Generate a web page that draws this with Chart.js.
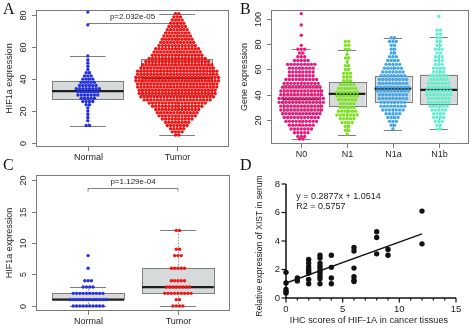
<!DOCTYPE html>
<html>
<head>
<meta charset="utf-8">
<script src="https://cdn.jsdelivr.net/npm/chart.js@4.4.1/dist/chart.umd.min.js"></script>
<style>
  body { margin: 0; background: #fff; }
  #page { position: relative; width: 474px; height: 329px; overflow: hidden; background: #fff; }
  .panel { position: absolute; }
  .tag { position: absolute; font-family: "Liberation Serif", "Times New Roman", serif; font-size: 16px; line-height: 1; color: #111; }
</style>
</head>
<body>
<div id="page">
  <div class="panel" style="left:0;top:0;width:237px;height:165px"><canvas id="chartA"></canvas></div>
  <div class="panel" style="left:237px;top:0;width:237px;height:165px"><canvas id="chartB"></canvas></div>
  <div class="panel" style="left:0;top:165px;width:237px;height:164px"><canvas id="chartC"></canvas></div>
  <div class="panel" style="left:237px;top:165px;width:237px;height:164px"><canvas id="chartD"></canvas></div>
  <div class="tag" style="left:3px;top:1px">A</div>
  <div class="tag" style="left:240px;top:1px">B</div>
  <div class="tag" style="left:3px;top:157px">C</div>
  <div class="tag" style="left:240px;top:157px">D</div>
</div>
<script>
// ---- Panel A: HIF1a expression, Normal vs Tumor (rows of the swarm: value + number of dots)
const groupsA = ['Normal', 'Tumor'];
const normalRowsA = [82, 74, 54.5, 52, 50, 48, 46, 44, 42, 40, 38, 36, 34, 32, 30, 28, 26, 24, 22, 20, 18, 16, 14, 11];
const normalCountsA = [1, 1, 1, 1, 1, 1, 1, 2, 3, 4, 5, 6, 8, 7, 7, 5, 4, 2, 1, 1, 1, 1, 1, 2];
const tumorRowsA = [81, 79, 77, 75, 73, 71, 69, 67, 65, 63, 61, 59, 57, 55, 53, 51, 49, 47, 45, 43, 41, 39, 37, 35, 33, 31, 29, 27, 25, 23, 21, 19, 17, 15, 13, 11, 9, 7, 5];
const tumorCountsA = [2, 3, 4, 5, 6, 7, 8, 9, 10, 11, 12, 14, 15, 16, 18, 20, 22, 23, 25, 25, 26, 26, 25, 25, 24, 24, 23, 21, 18, 16, 14, 13, 12, 10, 8, 7, 5, 4, 2];
const q1A = [27.5, 30];
const medianA = [32.5, 40.6];
const q3A = [39, 52.5];
const whiskerLoA = [10.5, 5];
const whiskerHiA = [54.5, 81];
const yTicksA = [0, 20, 40, 60, 80];

// ---- Panel B: gene expression by N stage
const groupsB = ['N0', 'N1', 'N1a', 'N1b'];
const n0RowsB = [104, 95, 87, 79, 76, 73, 70, 67, 64, 61, 58, 55, 52, 49, 46, 43, 40, 37, 34, 31, 28, 25, 22, 19, 16, 13, 10, 7, 5];
const n0CountsB = [1, 1, 1, 1, 3, 2, 3, 5, 9, 8, 8, 8, 10, 11, 12, 13, 13, 14, 14, 13, 13, 12, 11, 10, 8, 7, 5, 3, 2];
const n1RowsB = [82, 79, 76, 72, 69, 66, 63, 60, 57, 54, 51, 48, 45, 42, 39, 36, 33, 30, 27, 24, 21, 18, 15, 12, 9];
const n1CountsB = [2, 2, 2, 1, 2, 1, 2, 2, 3, 3, 3, 5, 6, 7, 7, 6, 5, 5, 6, 7, 5, 4, 2, 2, 1];
const n1aRowsB = [85, 82, 79, 76, 73, 70, 67, 64, 61, 58, 55, 52, 49, 46, 43, 40, 37, 34, 31, 28, 25, 22, 19, 16, 13];
const n1aCountsB = [2, 3, 2, 2, 2, 3, 4, 5, 6, 7, 8, 9, 9, 10, 10, 9, 9, 8, 8, 7, 5, 4, 3, 2, 1];
const n1bRowsB = [102, 91, 88, 85, 82, 79, 76, 73, 70, 67, 64, 61, 58, 55, 52, 49, 46, 43, 40, 37, 34, 31, 28, 25, 22, 19, 16, 13];
const n1bCountsB = [1, 2, 2, 2, 2, 2, 3, 2, 3, 3, 3, 4, 4, 6, 6, 7, 7, 8, 8, 7, 7, 6, 5, 4, 4, 3, 2, 2];
const q1B = [25.5, 30.8, 34, 32.9];
const medianB = [36.6, 40.6, 44.8, 43.8];
const q3B = [47.5, 50, 54.6, 55.9];
const whiskerLoB = [5, 7.9, 11.8, 13.1];
const whiskerHiB = [76.5, 75, 84.4, 85.7];
const yTicksB = [20, 40, 60, 80, 100];

// ---- Panel C: HIF1a expression (IHC scores)
const groupsC = ['Normal', 'Tumor'];
const normalRowsC = [0, 1, 2, 3, 4, 6, 8];
const normalCountsC = [10, 12, 10, 4, 3, 1, 1];
const tumorRowsC = [0, 1, 2, 3, 4, 6, 8, 9, 12];
const tumorCountsC = [4, 2, 9, 8, 5, 5, 3, 2, 2];
const q1C = [1, 2];
const medianC = [1, 3];
const q3C = [2, 6];
const whiskerLoC = [0, 0];
const whiskerHiC = [3, 12];
const yTicksC = [0, 5, 10, 15, 20];

// ---- Panel D: IHC score vs relative XIST expression
const ihcScoreD = [0, 0, 0, 0, 0, 1, 1, 2, 2, 2, 2, 2, 2, 2, 2, 3, 3, 3, 3, 3, 3, 3, 3, 3, 3, 4, 4, 4, 4, 6, 6, 6, 6, 6, 6, 8, 8, 8, 9, 9, 12, 12];
const xistD = [1.8, 1.05, 0.6, 0.45, 0.35, 1.4, 1.2, 2.7, 2.45, 2.2, 2.0, 1.85, 1.75, 1.3, 1.0, 3.0, 2.8, 2.45, 2.25, 2.1, 1.9, 1.75, 1.55, 1.35, 1.0, 3.0, 2.15, 1.4, 1.0, 3.55, 3.3, 2.1, 1.5, 1.25, 1.15, 4.65, 4.25, 3.1, 3.4, 3.0, 6.1, 3.8];
const fitXD = [0, 12];
const fitYD = [1.05, 4.5];
const xTicksD = [0, 5, 10, 15];
const yTicksD = [0, 2, 4, 6, 8];

const FONT = '"Liberation Sans", Arial, Helvetica, sans-serif';
const FRAME = '#7a7a7a';

function rPanelPlugin(opt) {
  return {
    id: 'rpanel',
    beforeDatasetsDraw(chart) {
      const { ctx, chartArea: a, scales: { x, y } } = chart;
      ctx.save();
      opt.groups.forEach((g, i) => {
        const c = x.getPixelForValue(i + 1);
        const l = x.getPixelForValue(i + 1 - 0.4), r = x.getPixelForValue(i + 1 + 0.4);
        const cl = x.getPixelForValue(i + 1 - 0.2), cr = x.getPixelForValue(i + 1 + 0.2);
        const yq1 = y.getPixelForValue(opt.q1[i]), yq3 = y.getPixelForValue(opt.q3[i]);
        const ylo = y.getPixelForValue(opt.lo[i]), yhi = y.getPixelForValue(opt.hi[i]);
        const ymed = y.getPixelForValue(opt.median[i]);
        // whiskers
        ctx.strokeStyle = '#8a8a8a';
        ctx.lineWidth = 1;
        ctx.setLineDash([1.5, 1.5]);
        ctx.beginPath();
        ctx.moveTo(Math.round(c) + 0.5, yq3); ctx.lineTo(Math.round(c) + 0.5, yhi);
        ctx.moveTo(Math.round(c) + 0.5, yq1); ctx.lineTo(Math.round(c) + 0.5, ylo);
        ctx.stroke();
        ctx.setLineDash([]);
        ctx.strokeStyle = '#7f7f7f';
        ctx.beginPath();
        ctx.moveTo(cl, Math.round(yhi) + 0.5); ctx.lineTo(cr, Math.round(yhi) + 0.5);
        ctx.moveTo(cl, Math.round(ylo) + 0.5); ctx.lineTo(cr, Math.round(ylo) + 0.5);
        ctx.stroke();
        // box
        ctx.fillStyle = '#d7dada';
        ctx.fillRect(l, yq3, r - l, yq1 - yq3);
        ctx.strokeRect(Math.round(l) + 0.5, Math.round(yq3) + 0.5, Math.round(r - l), Math.round(yq1 - yq3));
        // median
        ctx.strokeStyle = '#1e1e1e';
        ctx.lineWidth = 2.2;
        ctx.beginPath();
        ctx.moveTo(l, ymed); ctx.lineTo(r, ymed);
        ctx.stroke();
      });
      if (opt.pText) {
        const bx0 = x.getPixelForValue(1), bx1 = x.getPixelForValue(2);
        const by = Math.round(y.getPixelForValue(opt.pY)) + 0.5;
        ctx.strokeStyle = '#808080';
        ctx.lineWidth = 1;
        ctx.beginPath();
        ctx.moveTo(bx0, by + 3); ctx.lineTo(bx0, by); ctx.lineTo(bx1, by); ctx.lineTo(bx1, by + 3);
        ctx.stroke();
        ctx.fillStyle = '#222';
        ctx.font = '8px ' + FONT;
        ctx.textAlign = 'center';
        ctx.textBaseline = 'middle';
        ctx.fillText(opt.pText, (bx0 + bx1) / 2, by - 7);
      }
      ctx.restore();
    },
    afterDraw(chart) {
      const { ctx, chartArea: a, scales: { x, y } } = chart;
      ctx.save();
      ctx.strokeStyle = FRAME;
      ctx.lineWidth = 1;
      ctx.strokeRect(a.left + 0.5, a.top + 0.5, a.width - 1, a.height - 1);
      ctx.fillStyle = '#262626';
      ctx.font = '9px ' + FONT;
      ctx.textAlign = 'center';
      ctx.textBaseline = 'middle';
      // y ticks, labels turned like R's las = 0
      opt.yTicks.forEach(v => {
        const py = Math.round(y.getPixelForValue(v)) + 0.5;
        ctx.beginPath();
        ctx.moveTo(a.left, py); ctx.lineTo(a.left - 4, py);
        ctx.stroke();
        ctx.save();
        ctx.translate(a.left - 12, py);
        ctx.rotate(-Math.PI / 2);
        ctx.fillText(String(v), 0, 0);
        ctx.restore();
      });
      // x ticks and group names
      opt.groups.forEach((g, i) => {
        const px = Math.round(x.getPixelForValue(i + 1)) + 0.5;
        ctx.beginPath();
        ctx.moveTo(px, a.bottom); ctx.lineTo(px, a.bottom + 4);
        ctx.stroke();
        ctx.fillText(g, px, a.bottom + 11);
      });
      ctx.save();
      ctx.translate(a.left - 26, (a.top + a.bottom) / 2);
      ctx.rotate(-Math.PI / 2);
      ctx.fillText(opt.yTitle, 0, 0);
      ctx.restore();
      ctx.restore();
    }
  };
}

function swarmPanel(id, opt) {
  const chart = new Chart(document.getElementById(id), {
    type: 'scatter',
    data: {
      datasets: opt.colors.map(c => ({
        data: [],
        backgroundColor: c,
        borderWidth: 0,
        pointRadius: opt.radius,
        pointHoverRadius: opt.radius
      }))
    },
    options: {
      animation: false,
      responsive: true,
      maintainAspectRatio: false,
      layout: { padding: opt.pad },
      plugins: { legend: { display: false }, tooltip: { enabled: false } },
      scales: {
        x: { type: 'linear', display: false, min: opt.xlim[0], max: opt.xlim[1] },
        y: { type: 'linear', display: false, min: opt.ylim[0], max: opt.ylim[1] }
      }
    },
    plugins: [rPanelPlugin(opt)]
  });

  // spread each row sideways, dots side by side (pixel spacing -> data units)
  const xs = chart.scales.x;
  const step = opt.spacing / (xs.getPixelForValue(1) - xs.getPixelForValue(0));
  opt.rows.forEach((rows, g) => {
    const pts = [];
    rows.forEach((v, r) => {
      const n = opt.counts[g][r];
      for (let i = 0; i < n; i++) {
        pts.push({ x: g + 1 + (i - (n - 1) / 2) * step, y: v });
      }
    });
    chart.data.datasets[g].data = pts;
  });
  chart.update('none');
  return chart;
}

swarmPanel('chartA', {
  groups: groupsA,
  rows: [normalRowsA, tumorRowsA],
  counts: [normalCountsA, tumorCountsA],
  colors: ['#2530e0', '#f01414'],
  q1: q1A, median: medianA, q3: q3A, lo: whiskerLoA, hi: whiskerHiA,
  yTicks: yTicksA,
  yTitle: 'HIF1a expression',
  pText: 'p=2.032e-05', pY: 75,
  pad: { left: 36, top: 10, right: 8, bottom: 18 },
  xlim: [0.42, 2.58], ylim: [-2.5, 83.3],
  radius: 1.7, spacing: 3.3
});

swarmPanel('chartB', {
  groups: groupsB,
  rows: [n0RowsB, n1RowsB, n1aRowsB, n1bRowsB],
  counts: [n0CountsB, n1CountsB, n1aCountsB, n1bCountsB],
  colors: ['#e8197c', '#79e41a', '#42a6ea', '#5ff0cf'],
  q1: q1B, median: medianB, q3: q3B, lo: whiskerLoB, hi: whiskerHiB,
  yTicks: yTicksB,
  yTitle: 'Gene expression',
  pad: { left: 34, top: 10, right: 5, bottom: 21 },
  xlim: [0.34, 4.66], ylim: [1.1, 106.9],
  radius: 1.7, spacing: 3.4
});

swarmPanel('chartC', {
  groups: groupsC,
  rows: [normalRowsC, tumorRowsC],
  counts: [normalCountsC, tumorCountsC],
  colors: ['#2530e0', '#f01414'],
  q1: q1C, median: medianC, q3: q3C, lo: whiskerLoC, hi: whiskerHiC,
  yTicks: yTicksC,
  yTitle: 'HIF1a expression',
  pText: 'p=1.129e-04', pY: 18.7,
  pad: { left: 36, top: 10, right: 7, bottom: 18 },
  xlim: [0.42, 2.58], ylim: [-0.8, 20.8],
  radius: 1.7, spacing: 3.3
});

// Panel D: GraphPad-like scatter with regression line
const prismAxes = {
  id: 'prismAxes',
  afterDraw(chart) {
    const { ctx, chartArea: a, scales: { x, y } } = chart;
    ctx.save();
    ctx.strokeStyle = '#111';
    ctx.fillStyle = '#222';
    ctx.lineWidth = 1.5;
    ctx.beginPath();
    ctx.moveTo(a.left, a.top); ctx.lineTo(a.left, a.bottom); ctx.lineTo(a.right, a.bottom);
    ctx.stroke();
    ctx.lineWidth = 1.2;
    for (let v = xTicksD[0]; v <= xTicksD[xTicksD.length - 1]; v++) {
      const px = x.getPixelForValue(v);
      const len = xTicksD.includes(v) ? 4.5 : 2.5;
      ctx.beginPath();
      ctx.moveTo(px, a.bottom); ctx.lineTo(px, a.bottom + len);
      ctx.stroke();
    }
    yTicksD.forEach(v => {
      const py = y.getPixelForValue(v);
      ctx.beginPath();
      ctx.moveTo(a.left, py); ctx.lineTo(a.left - 4.5, py);
      ctx.stroke();
    });
    ctx.font = '9.5px ' + FONT;
    ctx.textAlign = 'center';
    ctx.textBaseline = 'middle';
    xTicksD.forEach(v => ctx.fillText(String(v), x.getPixelForValue(v), a.bottom + 11));
    ctx.textAlign = 'right';
    yTicksD.forEach(v => ctx.fillText(String(v), a.left - 6, y.getPixelForValue(v)));
    ctx.textAlign = 'center';
    ctx.font = '9.2px ' + FONT;
    ctx.fillText('IHC scores of HIF-1A in cancer tissues', (a.left + a.right) / 2 - 2, a.bottom + 22);
    ctx.save();
    ctx.translate(a.left - 26, (a.top + a.bottom) / 2 + 5);
    ctx.rotate(-Math.PI / 2);
    ctx.font = '8.6px ' + FONT;
    ctx.fillText('Relative expression of XIST in serum', 0, 0);
    ctx.restore();
    ctx.textAlign = 'left';
    ctx.font = '9px ' + FONT;
    ctx.fillText('y = 0.2877x + 1.0514', x.getPixelForValue(0.9), y.getPixelForValue(7.1));
    ctx.fillText('R2 = 0.5757', x.getPixelForValue(0.9), y.getPixelForValue(6.4));
    ctx.restore();
  }
};

new Chart(document.getElementById('chartD'), {
  type: 'scatter',
  data: {
    datasets: [
      {
        data: ihcScoreD.map((v, i) => ({ x: v, y: xistD[i] })),
        backgroundColor: '#111',
        borderWidth: 0,
        pointRadius: 2.7,
        pointHoverRadius: 2.7,
        clip: false
      },
      {
        data: fitXD.map((v, i) => ({ x: v, y: fitYD[i] })),
        showLine: true,
        borderColor: '#111',
        borderWidth: 1.3,
        pointRadius: 0,
        fill: false
      }
    ]
  },
  options: {
    animation: false,
    responsive: true,
    maintainAspectRatio: false,
    layout: { padding: { left: 49, top: 19, right: 18, bottom: 31 } },
    plugins: { legend: { display: false }, tooltip: { enabled: false } },
    scales: {
      x: { type: 'linear', display: false, min: 0, max: 15 },
      y: { type: 'linear', display: false, min: 0, max: 8 }
    }
  },
  plugins: [prismAxes]
});
</script>
</body>
</html>
